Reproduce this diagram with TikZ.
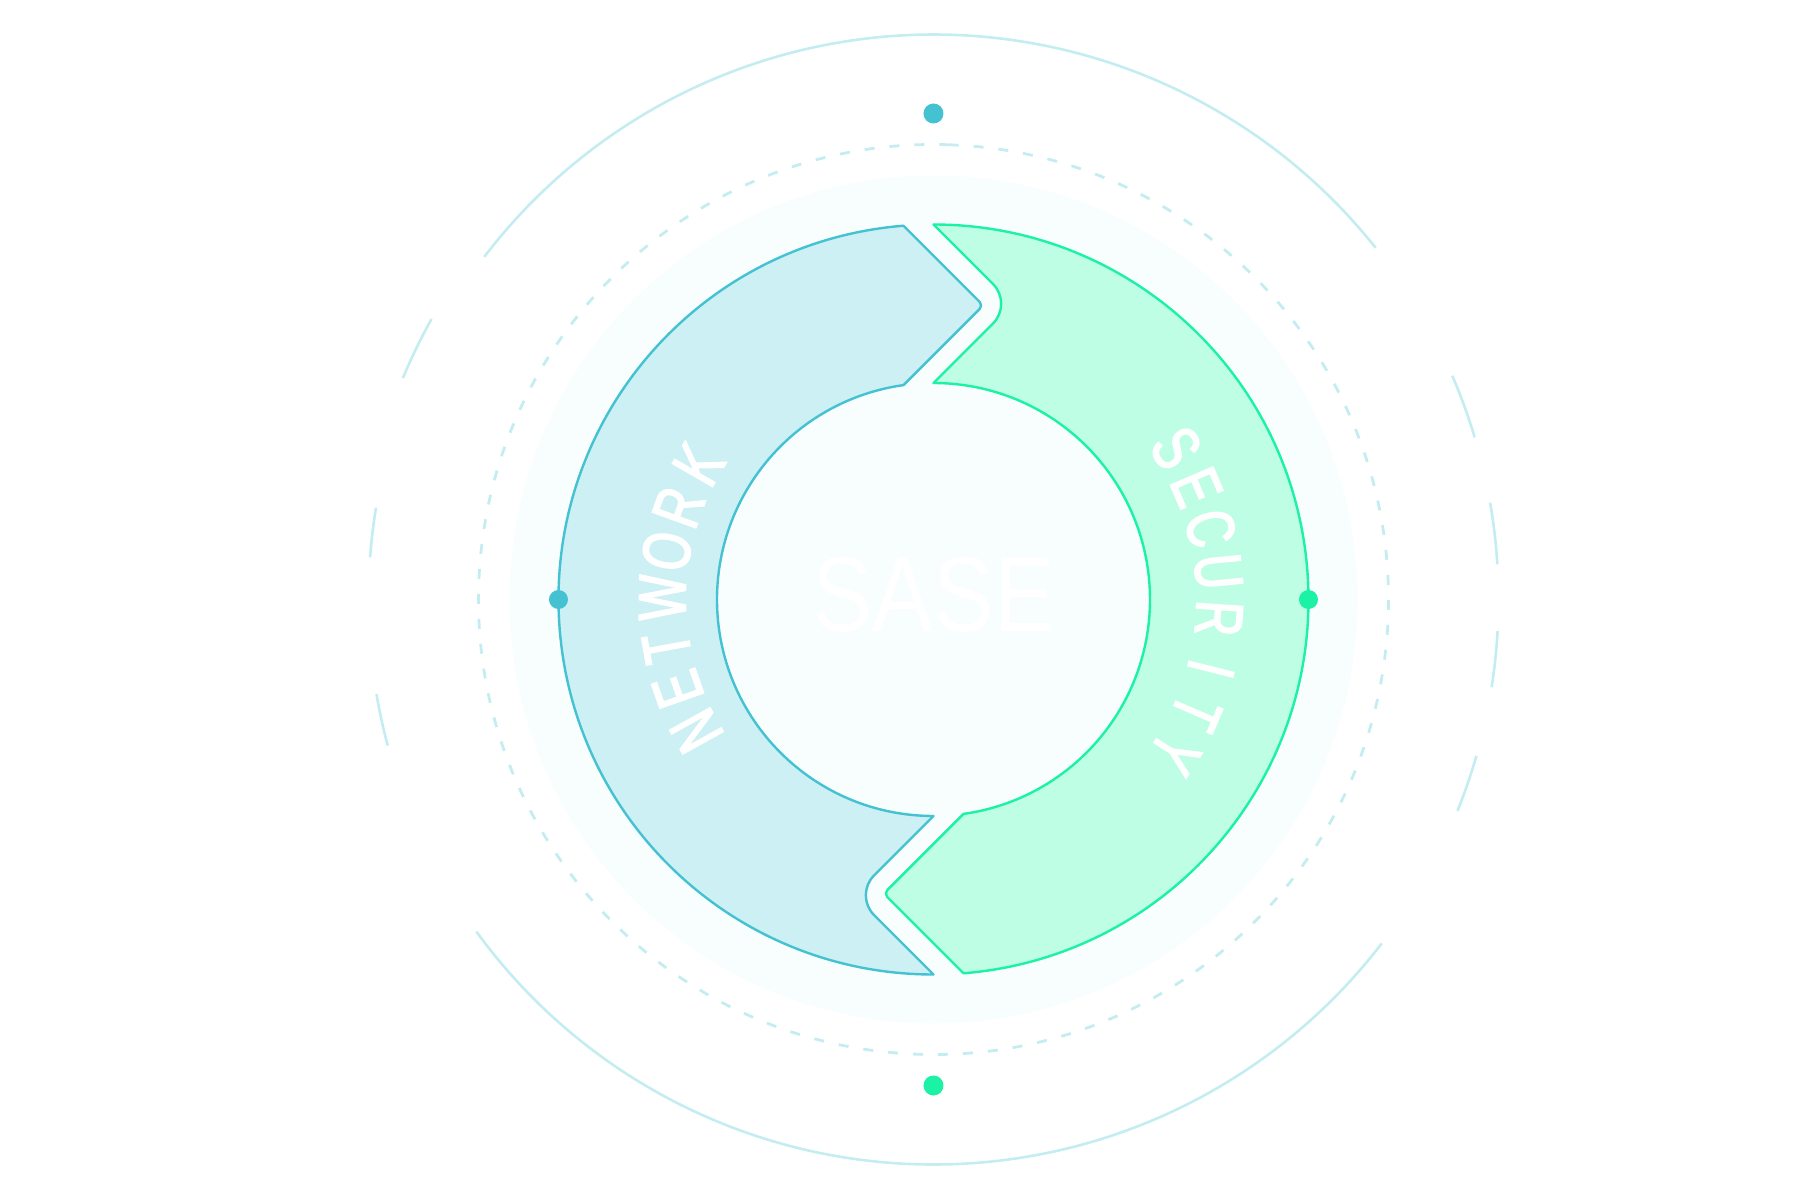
\documentclass[tikz,border=0pt]{standalone}
\usepackage{fontspec}
\usepackage{xcolor}
\usepackage{tikz}
\definecolor{saseblue}{HTML}{44C2D2}
\definecolor{sasebluesoft}{HTML}{CCF0F4}
\definecolor{sasegreen}{HTML}{1CF2A6}
\definecolor{sasegreensoft}{HTML}{BDFEE4}
\definecolor{saseline}{HTML}{C4EDF2}
\definecolor{sasehalo}{HTML}{F8FDFD}
\newfontfamily\ringfont[FakeStretch=0.72,FakeBold=2.5]{Liberation Sans}
\newfontfamily\hubfont[FakeStretch=0.85]{Liberation Sans}

\begin{document}
\begin{tikzpicture}[
  x=0.5pt,y=0.5pt,
  halo/.style={fill=sasehalo,draw=none},
  orbit/.style={draw=saseline,line width=1.4pt,dash pattern=on 5pt off 7.5pt},
  track/.style={draw=saseline,line width=1.3pt},
  netseg/.style={draw=saseblue,fill=sasebluesoft,line width=1.2pt,line join=round},
  secseg/.style={draw=sasegreen,fill=sasegreensoft,line width=1.2pt,line join=round},
  dot/.style={circle,draw=none,inner sep=0pt,minimum size=10pt},
  ringlabel/.style={text=white,inner sep=0pt,font=\ringfont\fontsize{33.5}{40}\selectfont},
  hub/.style={text=white,inner sep=0pt,font=\hubfont\fontsize{53.5}{64}\selectfont}
]
\useasboundingbox (-933.5,-600.5) rectangle (866.5,599.5);

\fill[halo] (0,0) circle[radius=424];
\draw[orbit] (88:455) arc[start angle=88,delta angle=360,radius=455];
\foreach \a/\b/\r in {38.5/142.67/565, 150.8/157.35/575, 170.65/175.72/565,
  189.65/194.99/565, 216/322.5/565, 16.68/23.33/565, 3.57/9.87/565,
  -8.94/-3.2/565, -21.97/-16.07/565}
  \draw[track] (\a:\r) arc[start angle=\a,end angle=\b,radius=\r];

\draw[netseg] (94.59:375) arc[start angle=94.59,end angle=270,radius=375]
  -- (-59.45,-315.55) arc[start angle=225,end angle=135,radius=28]
  -- (0,-216.5) arc[start angle=270,end angle=97.96,radius=216.5]
  -- (46.16,290.56) arc[start angle=-45,end angle=45,radius=5] -- cycle;
\draw[secseg] (274.59:375) arc[start angle=274.59,end angle=450,radius=375]
  -- (59.45,315.55) arc[start angle=45,end angle=-45,radius=28]
  -- (0,216.5) arc[start angle=90,end angle=-82.04,radius=216.5]
  -- (-46.16,-290.56) arc[start angle=135,end angle=225,radius=5] -- cycle;

\foreach \ch/\ang [count=\i] in {N/209,E/199.3,T/190.2,W/179.6,O/169.7,R/160.1,K/150.1}
  \node[ringlabel,rotate=\ang-90] (net\i) at (\ang:271) {\ch};
\foreach \ch/\ang [count=\i] in {S/32,E/23.1,C/14.4,U/5.6,R/-3.8,I/-14.1,T/-23.3,Y/-32.5}
  \node[ringlabel,rotate=\ang-90] (sec\i) at (\ang:286) {\ch};

\node[hub] (sase) at (0,5) {SASE};

\node[dot,fill=saseblue] (dottop) at (90:486) {};
\node[dot,fill=sasegreen] (dotbottom) at (270:486) {};
\node[dot,fill=saseblue,minimum size=9.5pt] (dotleft) at (180:375) {};
\node[dot,fill=sasegreen,minimum size=9.5pt] (dotright) at (0:375) {};
\end{tikzpicture}
\end{document}
